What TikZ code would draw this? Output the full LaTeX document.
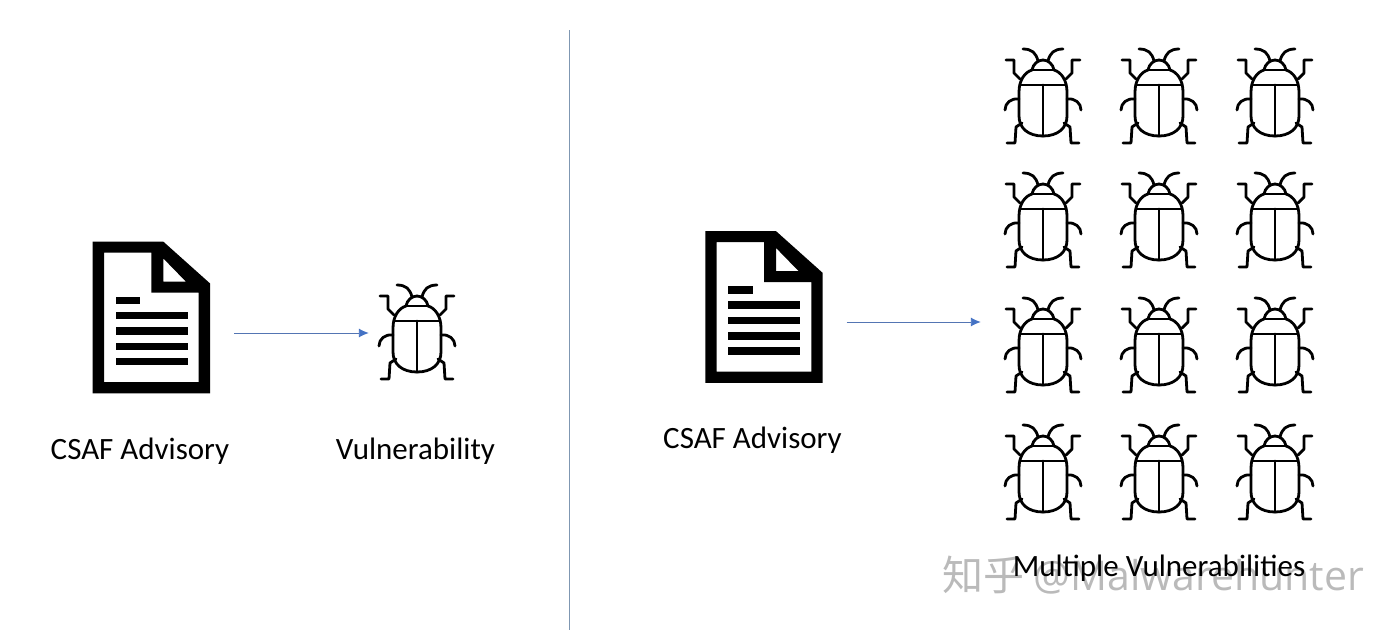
\documentclass[tikz,border=0pt]{standalone}
\usepackage{fontspec}
\setmainfont{Carlito}
\newfontfamily\cjk{Noto Sans CJK SC}
\newfontfamily\markfont{Open Sans}
\usetikzlibrary{calc,arrows.meta}
\definecolor{flowblue}{HTML}{4472C4}
\definecolor{rulecol}{HTML}{7F97B2}
\begin{document}
\begin{tikzpicture}[x=1pt,y=-1pt,
  font=\fontsize{31}{36}\selectfont,
  flow/.style={draw=flowblue!75!gray,line width=0.9pt,-{Latex[length=10pt,width=9pt,flowblue]}},
  holder/.style={inner sep=0pt,minimum width=#1},
  bug/.pic={
    \foreach \s in {-1,1} {
      \begin{scope}[xscale=\s,line width=2.8pt,line cap=round,line join=round]
%antenna and legs
      \draw (-5,-35) .. controls (-7,-43) and (-11,-47) .. (-20,-47);
      \draw (-23,-17) -- (-29,-23) -- (-29,-36) -- (-37,-36);
      \draw (-24,3) .. controls (-32,2) and (-38,7) .. (-38,14);
      \draw (-21,27) -- (-27,31) -- (-28,47) -- (-36,47);
%half of the shell
      \draw (0,40) .. controls (-15,40) and (-24,32) .. (-24,20) -- (-24,-4)
        .. controls (-24,-16) and (-18,-24) .. (-11,-26);
      \draw (-11,-26) .. controls (-10,-32) and (-5,-36) .. (0,-36);
      \end{scope}}
    \draw[line width=2.8pt,line cap=round] (-23,-11) -- (23,-11) (-11,-26) -- (11,-26) (0,-11) -- (0,40);
  },
  doc/.pic={
    \begin{scope}[shift={(-58.6,-75.8)}]
    \fill[even odd rule] (0,0) -- (70.7,0) -- (117.3,41.7) -- (117.3,151.6) -- (0,151.6) -- cycle
      (11.3,11) -- (58.6,11) -- (58.6,51) -- (106,51) -- (106,140.3) -- (11.3,140.3) -- cycle
      (70.6,16.7) -- (70.6,40) -- (93.3,40) -- cycle;
    \fill (23,55) rectangle (47.7,62.5);
    \foreach \y in {70,85.5,101,116}
      \fill (23,\y) rectangle (95,\y+7.5);
    \end{scope}
  }]

\useasboundingbox (0,0) rectangle (1400,630);

%divider
  \coordinate (ruletop) at (569.7,30);
  \coordinate (rulebot) at (569.7,630);
  \draw[rulecol,line width=0.9pt] (ruletop) -- (rulebot);

%watermark goes under the labels
  \node[text=black!27,anchor=west,font=\fontsize{41}{48}\selectfont] (mark) at (939,575)
    {{\cjk 知乎} {\markfont @Malwarehunter}};

%left side
  \node[holder=117pt] (docA) at (151.3,317.5) {};
  \pic at (docA) {doc};
  \node[holder=76pt] (bugA) at (417,332) {};
  \pic at (bugA) {bug};
  \node (docAtext) at (140,451.5) {CSAF Advisory};
  \node (bugAtext) at (415.5,451.5) {Vulnerability};
  \coordinate (tailA) at ($(docA.east)+(24,15.5)$);
  \coordinate (headA) at ($(bugA.west)+(-10,1)$);
  \draw[flow] (tailA) -- (headA);

%right side
  \node[holder=117pt] (docB) at (764,307) {};
  \pic at (docB) {doc};
  \node (docBtext) at (752.5,440.5) {CSAF Advisory};
  \foreach \row/\ypos in {1/96,2/220,3/345,4/472}
    \foreach \col/\xpos in {1/1043,2/1159,3/1275} {
      \node[holder=76pt] (bug\row\col) at (\xpos,\ypos) {};
      \pic at (bug\row\col) {bug};
    }
  \node (bugBtext) at (1159,568) {Multiple Vulnerabilities};
  \coordinate (tailB) at ($(docB.east)+(24,15)$);
  \coordinate (headB) at ($(bug31.west)+(-24,-23)$);
  \draw[flow] (tailB) -- (headB);

\end{tikzpicture}
\end{document}
